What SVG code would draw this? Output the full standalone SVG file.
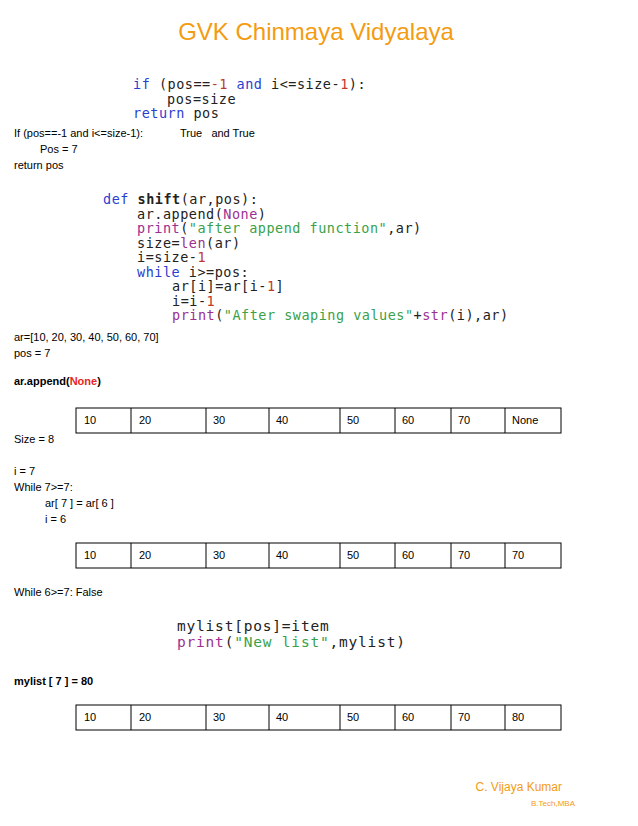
<svg xmlns="http://www.w3.org/2000/svg" width="638" height="826" viewBox="0 0 638 826">
<style>
text{font-family:"Liberation Sans",Arial,sans-serif;font-size:11px;fill:#000}
text.c{font-family:"DejaVu Sans Mono","Liberation Mono",monospace;fill:#222;font-size:13.5px;letter-spacing:0.5px}
text.c3{font-size:14.5px;letter-spacing:0.8px}
.k{fill:#2a3fd0}.n{fill:#c0392b}.s{fill:#3aa14a}.f{fill:#9b3090}
.cell{fill:none;stroke:#000;stroke-width:1}
</style>
<rect width="638" height="826" fill="#fff"/>
<text x="316" y="40" text-anchor="middle" style="font-size:24px;fill:#f39c12">GVK Chinmaya Vidyalaya</text>
<g id="code1">
<text class="c" x="133" y="89"><tspan class="k">if</tspan> (pos==<tspan class="n">-1</tspan> <tspan class="k">and</tspan> i&lt;=size-<tspan class="n">1</tspan>):</text>
<text class="c" x="167" y="104">pos=size</text>
<text class="c" x="133" y="118"><tspan class="k">return</tspan> pos</text>
</g>
<text x="14" y="137">If (pos==-1 and i&lt;=size-1):</text>
<text x="180" y="137" xml:space="preserve">True   and True</text>
<text x="40" y="153">Pos = 7</text>
<text x="14" y="169">return pos</text>
<g id="code2">
<text class="c" x="103" y="204"><tspan class="k">def</tspan> <tspan font-weight="bold">shift</tspan>(ar,pos):</text>
<text class="c" x="137" y="219">ar.append(<tspan class="f">None</tspan>)</text>
<text class="c" x="137" y="233"><tspan class="f">print</tspan>(<tspan class="s">"after append function"</tspan>,ar)</text>
<text class="c" x="137" y="248">size=<tspan class="f">len</tspan>(ar)</text>
<text class="c" x="137" y="262">i=size-<tspan class="n">1</tspan></text>
<text class="c" x="137" y="277"><tspan class="k">while</tspan> i&gt;=pos:</text>
<text class="c" x="172" y="291">ar[i]=ar[i-<tspan class="n">1</tspan>]</text>
<text class="c" x="172" y="306">i=i-<tspan class="n">1</tspan></text>
<text class="c" x="172" y="320"><tspan class="f">print</tspan>(<tspan class="s">"After swaping values"</tspan>+<tspan class="f">str</tspan>(i),ar)</text>
</g>
<text x="14" y="341">ar=[10, 20, 30, 40, 50, 60, 70]</text>
<text x="14" y="357">pos = 7</text>
<text x="14" y="385" font-weight="bold">ar.append(<tspan fill="#e8251f">None</tspan>)</text>
<g id="table1">
<rect class="cell" x="76" y="408" width="485" height="25"/>
<path d="M131 408V433M206 408V433M269 408V433M340 408V433M395 408V433M451 408V433M505 408V433" stroke="#000"/>
<text x="84" y="424">10</text><text x="139" y="424">20</text><text x="213" y="424">30</text><text x="276" y="424">40</text><text x="347" y="424">50</text><text x="402" y="424">60</text><text x="458" y="424">70</text><text x="512" y="424">None</text>
</g>
<text x="14" y="443">Size = 8</text>
<text x="14" y="475">i = 7</text>
<text x="14" y="491">While 7&gt;=7:</text>
<text x="45" y="507">ar[ 7 ] = ar[ 6 ]</text>
<text x="45" y="523">i = 6</text>
<g id="table2">
<rect class="cell" x="76" y="543" width="485" height="25"/>
<path d="M131 543V568M206 543V568M269 543V568M340 543V568M395 543V568M451 543V568M505 543V568" stroke="#000"/>
<text x="84" y="559">10</text><text x="139" y="559">20</text><text x="213" y="559">30</text><text x="276" y="559">40</text><text x="347" y="559">50</text><text x="402" y="559">60</text><text x="458" y="559">70</text><text x="512" y="559">70</text>
</g>
<text x="14" y="596">While 6&gt;=7: False</text>
<g id="code3">
<text class="c c3" x="177" y="631">mylist[pos]=item</text>
<text class="c c3" x="177" y="647"><tspan class="f">print</tspan>(<tspan class="s">"New list"</tspan>,mylist)</text>
</g>
<text x="14" y="685" font-weight="bold">mylist [ 7 ] = 80</text>
<g id="table3">
<rect class="cell" x="76" y="705" width="485" height="25"/>
<path d="M131 705V730M206 705V730M269 705V730M340 705V730M395 705V730M451 705V730M505 705V730" stroke="#000"/>
<text x="84" y="721">10</text><text x="139" y="721">20</text><text x="213" y="721">30</text><text x="276" y="721">40</text><text x="347" y="721">50</text><text x="402" y="721">60</text><text x="458" y="721">70</text><text x="512" y="721">80</text>
</g>
<text x="562" y="791" text-anchor="end" style="font-size:12px;fill:#f39c12">C. Vijaya Kumar</text>
<text x="575" y="806" text-anchor="end" style="font-size:8px;fill:#f39c12">B.Tech,MBA</text>
</svg>
